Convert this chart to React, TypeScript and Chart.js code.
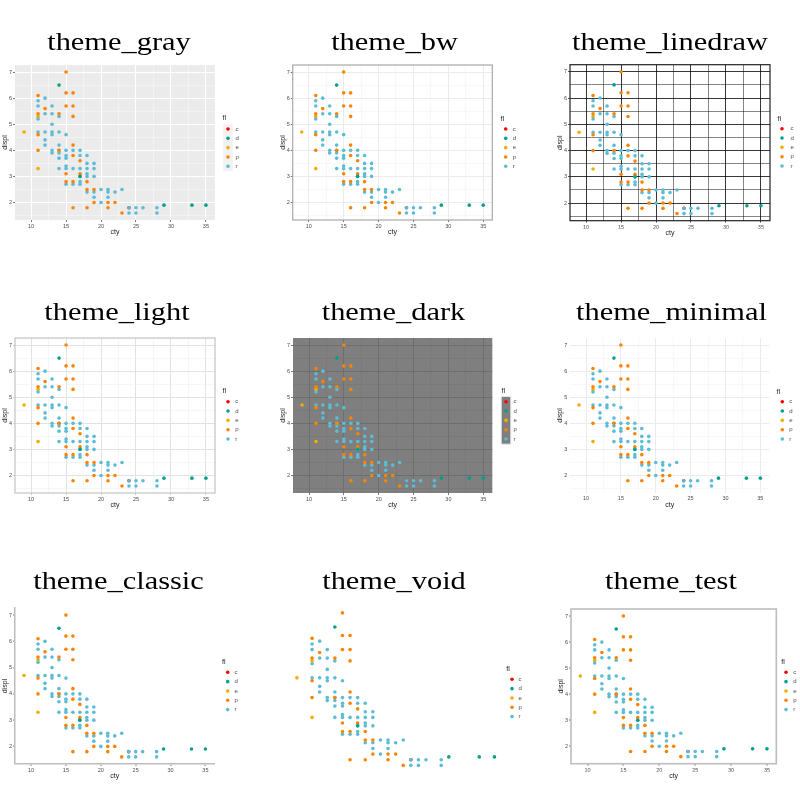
import React, { useEffect, useRef } from 'react';
import { Chart, registerables } from 'chart.js';
Chart.register(...registerables);

// ---- data (mpg: cty vs displ, coloured by fl) ----
const fuelTypes = ['c', 'd', 'e', 'p', 'r'];
const fuelColors = ['#FF0000', '#00A08A', '#F2AD00', '#F98400', '#5BBCD6'];

const ctyC = [24];
const displC = [1.8];
const ctyD = [14, 17, 29, 33, 35];
const displD = [6.5, 3.0, 1.9, 1.9, 1.9];
const ctyE = [9, 11, 11];
const displE = [4.7, 5.3, 3.3];
const ctyP = [15, 15, 16, 11, 15, 16, 12, 11, 14, 16, 11, 16, 11, 14, 16, 17, 15, 17, 15, 16, 18, 18, 19, 19, 21, 22, 16, 18, 21, 23];
const displP = [7.0, 6.2, 6.2, 6.1, 5.7, 5.7, 5.6, 5.4, 5.4, 5.3, 4.6, 4.2, 4.0, 4.0, 3.8, 3.6, 3.1, 3.1, 2.8, 2.8, 2.8, 2.5, 2.5, 2.0, 2.0, 2.0, 1.8, 1.8, 1.8, 1.6];
const ctyR = [12, 11, 11, 13, 12, 13, 14, 11, 13, 11, 12, 13, 14, 13, 15, 12, 12, 14, 13, 14, 15, 16, 17, 13, 14, 15, 17, 18, 14, 15, 18, 19, 15, 14, 15, 16, 17, 18, 19, 18, 17, 18, 19, 17, 15, 16, 17, 20, 21, 23, 18, 19, 21, 22, 19, 21, 20, 24, 25, 26, 28, 24, 25, 28];
const displR = [6.0, 5.9, 5.7, 5.7, 5.4, 5.4, 5.3, 5.2, 5.0, 4.7, 4.7, 4.7, 4.7, 4.6, 4.6, 4.4, 4.2, 4.2, 4.0, 4.0, 4.0, 4.0, 4.0, 3.9, 3.9, 3.8, 3.8, 3.8, 3.7, 3.7, 3.5, 3.5, 3.4, 3.3, 3.3, 3.3, 3.3, 3.3, 3.3, 3.1, 3.0, 3.0, 3.0, 2.8, 2.7, 2.7, 2.7, 2.5, 2.5, 2.5, 2.4, 2.4, 2.4, 2.4, 2.2, 2.2, 2.0, 1.8, 1.8, 1.8, 1.8, 1.6, 1.6, 1.6];

const xMajorTicks = [10, 15, 20, 25, 30, 35];
const xMinorTicks = [12.5, 17.5, 22.5, 27.5, 32.5];
const yMajorTicks = [2, 3, 4, 5, 6, 7];
const yMinorTicks = [1.5, 2.5, 3.5, 4.5, 5.5, 6.5];
const xTitle = 'cty';
const yTitle = 'displ';
const legendTitle = 'fl';
const themeNames = ['theme_gray', 'theme_bw', 'theme_linedraw', 'theme_light', 'theme_dark', 'theme_minimal', 'theme_classic', 'theme_void', 'theme_test'];

// painting order (first painted first, last ends up on top)
const paintOrder = [
  { fl: 'c', x: ctyC, y: displC },
  { fl: 'e', x: ctyE, y: displE },
  { fl: 'r', x: ctyR, y: displR },
  { fl: 'p', x: ctyP, y: displP },
  { fl: 'd', x: ctyD, y: displD },
];

const allX = [...ctyC, ...ctyD, ...ctyE, ...ctyP, ...ctyR];
const allY = [...displC, ...displD, ...displE, ...displP, ...displR];
const xMinD = Math.min(...allX), xMaxD = Math.max(...allX);
const yMinD = Math.min(...allY), yMaxD = Math.max(...allY);
const xLo = xMinD - (xMaxD - xMinD) * 0.05, xHi = xMaxD + (xMaxD - xMinD) * 0.05;
const yLo = yMinD - (yMaxD - yMinD) * 0.05, yHi = yMaxD + (yMaxD - yMinD) * 0.05;

// ---- layout / styles ----
type Style = {
  bg?: string; major?: string; minor?: string; majorW?: number; minorW?: number;
  border?: string; borderW?: number; ticks?: boolean; tickColor?: string;
  axisLine?: string; axisLineW?: number; axes: boolean; keyBg?: string; keyBox?: string;
};

const STYLES: Style[] = [
  { bg: '#EBEBEB', major: '#FFFFFF', minor: '#F6F6F6', majorW: 1, minorW: 0.6, ticks: true, tickColor: '#555', axes: true, keyBg: '#F2F2F2' },
  { major: '#EBEBEB', minor: '#F4F4F4', majorW: 1, minorW: 0.6, border: '#A8A8A8', borderW: 1.2, ticks: true, tickColor: '#555', axes: true },
  { major: 'rgba(0,0,0,0.78)', minor: 'rgba(0,0,0,0.6)', majorW: 1, minorW: 0.8, border: '#222', borderW: 1.2, ticks: true, tickColor: '#333', axes: true },
  { major: '#E2E2E2', minor: '#F0F0F0', majorW: 1, minorW: 0.6, border: '#C4C4C4', borderW: 1.2, ticks: true, tickColor: '#C4C4C4', axes: true },
  { bg: '#7F7F7F', major: '#6E6E6E', minor: '#767676', majorW: 1, minorW: 0.6, ticks: true, tickColor: '#555', axes: true, keyBox: '#7F7F7F' },
  { major: '#EBEBEB', minor: '#F4F4F4', majorW: 1, minorW: 0.6, ticks: false, axes: true },
  { ticks: true, tickColor: '#555', axisLine: '#BDBDBD', axisLineW: 1.5, axes: true },
  { axes: false },
  { border: '#BDBDBD', borderW: 1.6, ticks: true, tickColor: '#555', axes: true },
];

// cells [x, y, w, h]
const CELLS = [
  [0, 0, 266, 268], [266, 0, 267, 268], [533, 0, 267, 268],
  [0, 268, 266, 268], [266, 268, 267, 268], [533, 268, 267, 268],
  [0, 536, 266, 264], [266, 536, 267, 264], [533, 536, 267, 264],
];
// plot areas [L, T, R, B] in page pixels
const AREAS = [
  [15, 65, 215, 220], [292.7, 65, 492.3, 220], [570, 64.7, 770, 220.7],
  [15, 338, 215, 493], [293, 338, 492.3, 493], [570, 338, 769.4, 493],
  [15, 608, 214.5, 764], [277, 605.3, 504.3, 781], [571, 609, 776.3, 763.7],
];
// legend: title x,y ; key x ; first key y ; label x
const LEGENDS = [
  [222.5, 118, 228, 129, 235.5], [500.5, 118.7, 505.7, 129, 512.8], [777.5, 118.7, 782, 128.7, 790.5],
  [222.5, 391, 228, 401.7, 235.2], [501.5, 391, 506, 401.7, 513.5], [776.5, 391.7, 782.3, 401.7, 789.2],
  [222, 661.7, 227.7, 672.3, 234.5], [506.2, 668.7, 512, 679.3, 518.5], [781.2, 661.7, 786, 672.3, 793.2],
];
const TITLE_POS = [
  [119, 49.5], [394.5, 49.5], [670, 49.5],
  [117, 320], [393.5, 320], [671.5, 320],
  [118.5, 589], [394, 589], [671, 589],
];

const Y_AXIS_W = 10;
const X_AXIS_H = 8;
const SANS = '"Liberation Sans", Arial, sans-serif';

function buildChart(canvas: HTMLCanvasElement, i: number) {
  const st = STYLES[i];
  const [cx, cy, cw, ch] = CELLS[i];
  const [L, T, R, B] = AREAS[i];
  const lg = LEGENDS[i];
  const yw = st.axes ? Y_AXIS_W : 0;
  const xh = st.axes ? X_AXIS_H : 0;
  const padding = {
    left: L - cx - yw,
    top: T - cy,
    right: cx + cw - R,
    bottom: cy + ch - B - xh,
  };

  const gridColor = (major: number[]) => (ctx: any) => {
    const v = ctx.tick ? ctx.tick.value : 0;
    return major.includes(v) ? (st.major || 'transparent') : (st.minor || 'transparent');
  };
  const gridWidth = (major: number[]) => (ctx: any) => {
    const v = ctx.tick ? ctx.tick.value : 0;
    return major.includes(v) ? (st.majorW || 0) : (st.minorW || 0);
  };
  const tickCol = (major: number[]) => (ctx: any) => {
    const v = ctx.tick ? ctx.tick.value : 0;
    return major.includes(v) ? (st.tickColor || 'transparent') : 'transparent';
  };
  const hasGrid = !!st.major;

  const mkScale = (axis: 'x' | 'y') => {
    const major = axis === 'x' ? xMajorTicks : yMajorTicks;
    const minor = axis === 'x' ? xMinorTicks : yMinorTicks;
    return {
      type: 'linear' as const,
      min: axis === 'x' ? xLo : yLo,
      max: axis === 'x' ? xHi : yHi,
      display: st.axes,
      afterBuildTicks: (s: any) => {
        s.ticks = [...major, ...minor].sort((a, b) => a - b).map((v) => ({ value: v }));
      },
      afterFit: (s: any) => {
        if (axis === 'x') s.height = X_AXIS_H; else s.width = Y_AXIS_W;
      },
      ticks: {
        autoSkip: false,
        maxRotation: 0,
        padding: st.ticks ? 1 : (axis === 'x' ? 2.5 : 2.8),
        color: '#4D4D4D',
        font: { family: SANS, size: 5.5 },
        callback: (v: any) => (major.includes(Number(v)) ? String(v) : ''),
      },
      grid: {
        display: true,
        drawOnChartArea: hasGrid,
        drawTicks: !!st.ticks,
        tickLength: 2,
        color: gridColor(major),
        lineWidth: gridWidth(major),
        tickColor: tickCol(major),
        tickWidth: 0.8,
      },
      border: {
        display: !!st.axisLine,
        color: st.axisLine || 'transparent',
        width: st.axisLineW || 0,
      },
    };
  };

  const deco = {
    id: 'deco' + i,
    beforeDraw(chart: any) {
      const { ctx, chartArea: a } = chart;
      if (st.bg) {
        ctx.save();
        ctx.fillStyle = st.bg;
        ctx.fillRect(a.left, a.top, a.right - a.left, a.bottom - a.top);
        ctx.restore();
      }
    },
    afterDraw(chart: any) {
      const { ctx, chartArea: a } = chart;
      ctx.save();
      if (st.border) {
        ctx.strokeStyle = st.border;
        ctx.lineWidth = st.borderW || 1;
        ctx.strokeRect(a.left, a.top, a.right - a.left, a.bottom - a.top);
      }
      if (st.axes) {
        ctx.fillStyle = '#222';
        ctx.font = `7px ${SANS}`;
        ctx.textAlign = 'center';
        ctx.textBaseline = 'middle';
        ctx.fillText(xTitle, (a.left + a.right) / 2, a.bottom + 12);
        ctx.save();
        ctx.translate(a.left - 10, (a.top + a.bottom) / 2);
        ctx.rotate(-Math.PI / 2);
        ctx.fillText(yTitle, 0, 0);
        ctx.restore();
      }
      // legend
      const [tx, ty, kx, ky, lx] = lg;
      const step = 9.33;
      if (st.keyBg) {
        ctx.fillStyle = st.keyBg;
        ctx.fillRect(kx - 4.8 - cx, ky - 4.7 - cy, 9.6, step * 5);
      }
      if (st.keyBox) {
        ctx.fillStyle = st.keyBox;
        ctx.fillRect(kx - 4.8 - cx, ky - 5.2 - cy, 9.6, step * 5 + 1);
        ctx.strokeStyle = '#E6E6E6';
        ctx.lineWidth = 1;
        ctx.strokeRect(kx - 4.8 - cx, ky - 5.2 - cy, 9.6, step * 5 + 1);
      }
      ctx.textAlign = 'left';
      ctx.textBaseline = 'middle';
      ctx.fillStyle = '#222';
      ctx.font = `7px ${SANS}`;
      ctx.fillText(legendTitle, tx - cx, ty - cy);
      ctx.font = `6px ${SANS}`;
      fuelTypes.forEach((f, k) => {
        const yy = ky + k * step - cy;
        ctx.fillStyle = fuelColors[k];
        ctx.beginPath();
        ctx.arc(kx - cx, yy, 1.8, 0, Math.PI * 2);
        ctx.fill();
        ctx.fillStyle = '#4D4D4D';
        ctx.fillText(f, lx - cx, yy);
      });
      // plot title
      const [ttx, tty] = TITLE_POS[i];
      ctx.fillStyle = '#000';
      ctx.font = `26px "Liberation Serif", "Times New Roman", serif`;
      ctx.textAlign = 'center';
      ctx.textBaseline = 'alphabetic';
      ctx.translate(ttx - cx, tty - cy);
      ctx.scale(1.17, 1);
      ctx.fillText(themeNames[i], 0, 0);
      ctx.restore();
    },
  };

  // Chart.js paints dataset 0 last (on top), so reverse the painting order
  const datasets = [...paintOrder].reverse().map((d) => {
    const c = fuelColors[fuelTypes.indexOf(d.fl)];
    return {
      label: d.fl,
      data: d.x.map((xv, k) => ({ x: xv, y: d.y[k] })),
      backgroundColor: c,
      borderColor: c,
      borderWidth: 0,
      pointRadius: 1.8,
      pointHoverRadius: 1.8,
    };
  });

  return new Chart(canvas, {
    type: 'scatter',
    data: { datasets },
    options: {
      animation: false,
      responsive: false,
      maintainAspectRatio: false,
      devicePixelRatio: 1,
      events: [],
      layout: { padding },
      plugins: { legend: { display: false }, tooltip: { enabled: false }, title: { display: false } },
      scales: { x: mkScale('x'), y: mkScale('y') },
    },
    plugins: [deco],
  });
}

function Panel({ index }: { index: number }) {
  const ref = useRef<HTMLCanvasElement>(null);
  const [cx, cy, cw, ch] = CELLS[index];
  useEffect(() => {
    const chart = buildChart(ref.current as HTMLCanvasElement, index);
    return () => chart.destroy();
  }, [index]);
  return (
    <canvas
      ref={ref}
      width={cw}
      height={ch}
      style={{ position: 'absolute', left: cx, top: cy, width: cw, height: ch }}
    />
  );
}

export default function App() {
  return (
    <div style={{ position: 'absolute', left: 0, top: 0, width: 800, height: 800, background: '#fff' }}>
      {themeNames.map((_, i) => (
        <Panel key={i} index={i} />
      ))}
    </div>
  );
}
